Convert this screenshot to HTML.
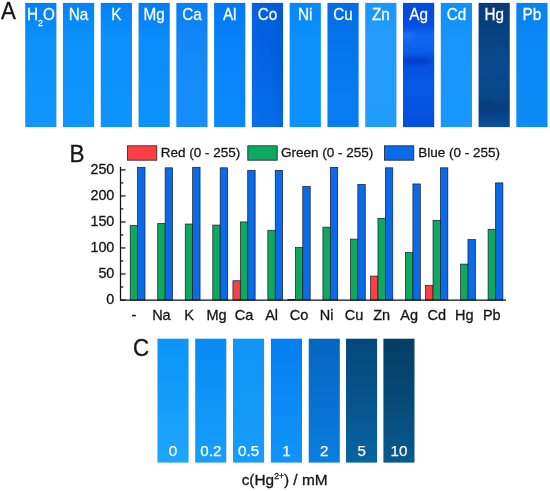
<!DOCTYPE html><html><head><meta charset="utf-8"><title>Figure</title>
<style>html,body{margin:0;padding:0;background:#fff}svg{display:block}text{font-family:"Liberation Sans",Arial,sans-serif}.w{fill:#fff;stroke:#fff;stroke-width:.25}.k{fill:#151515;stroke:#151515;stroke-width:.3}</style></head><body>
<svg width="550" height="491" viewBox="0 0 550 491">
<defs>
<linearGradient id="a0" x1="0" y1="0" x2="0" y2="1"><stop offset="0" stop-color="rgb(4,128,247)"/><stop offset="0.3" stop-color="rgb(12,144,252)"/><stop offset="1" stop-color="rgb(16,150,253)"/></linearGradient>
<linearGradient id="a1" x1="0" y1="0" x2="0" y2="1"><stop offset="0" stop-color="rgb(4,130,247)"/><stop offset="0.3" stop-color="rgb(12,146,252)"/><stop offset="1" stop-color="rgb(14,150,253)"/></linearGradient>
<linearGradient id="a2" x1="0" y1="0" x2="0" y2="1"><stop offset="0" stop-color="rgb(4,128,247)"/><stop offset="0.3" stop-color="rgb(12,144,252)"/><stop offset="1" stop-color="rgb(14,148,253)"/></linearGradient>
<linearGradient id="a3" x1="0" y1="0" x2="0" y2="1"><stop offset="0" stop-color="rgb(4,124,246)"/><stop offset="0.3" stop-color="rgb(10,140,251)"/><stop offset="1" stop-color="rgb(12,146,252)"/></linearGradient>
<linearGradient id="a4" x1="0" y1="0" x2="0" y2="1"><stop offset="0" stop-color="rgb(10,126,245)"/><stop offset="0.4" stop-color="rgb(20,138,249)"/><stop offset="1" stop-color="rgb(20,142,251)"/></linearGradient>
<linearGradient id="a5" x1="0" y1="0" x2="0" y2="1"><stop offset="0" stop-color="rgb(4,120,244)"/><stop offset="0.4" stop-color="rgb(8,132,248)"/><stop offset="1" stop-color="rgb(10,138,250)"/></linearGradient>
<linearGradient id="a6" x1="0" y1="0" x2="0" y2="1"><stop offset="0" stop-color="rgb(2,94,222)"/><stop offset="0.5" stop-color="rgb(3,100,228)"/><stop offset="1" stop-color="rgb(6,112,238)"/></linearGradient>
<linearGradient id="a7" x1="0" y1="0" x2="0" y2="1"><stop offset="0" stop-color="rgb(6,136,249)"/><stop offset="0.3" stop-color="rgb(12,144,252)"/><stop offset="1" stop-color="rgb(12,146,252)"/></linearGradient>
<linearGradient id="a8" x1="0" y1="0" x2="0" y2="1"><stop offset="0" stop-color="rgb(3,108,228)"/><stop offset="0.4" stop-color="rgb(5,118,236)"/><stop offset="1" stop-color="rgb(8,126,242)"/></linearGradient>
<linearGradient id="a9" x1="0" y1="0" x2="0" y2="1"><stop offset="0" stop-color="rgb(26,150,251)"/><stop offset="0.3" stop-color="rgb(36,156,253)"/><stop offset="1" stop-color="rgb(32,156,253)"/></linearGradient>
<linearGradient id="a10" x1="0" y1="0" x2="0" y2="1"><stop offset="0" stop-color="rgb(3,74,222)"/><stop offset="0.18" stop-color="rgb(4,78,226)"/><stop offset="0.26" stop-color="rgb(18,102,240)"/><stop offset="0.38" stop-color="rgb(12,96,236)"/><stop offset="0.44" stop-color="rgb(8,84,226)"/><stop offset="0.56" stop-color="rgb(6,82,226)"/><stop offset="0.65" stop-color="rgb(8,88,230)"/><stop offset="1" stop-color="rgb(4,78,222)"/></linearGradient>
<linearGradient id="a11" x1="0" y1="0" x2="0" y2="1"><stop offset="0" stop-color="rgb(16,142,250)"/><stop offset="0.3" stop-color="rgb(24,150,253)"/><stop offset="1" stop-color="rgb(22,152,253)"/></linearGradient>
<linearGradient id="a12" x1="0" y1="0" x2="0" y2="1"><stop offset="0" stop-color="rgb(7,60,120)"/><stop offset="0.3" stop-color="rgb(8,67,132)"/><stop offset="0.5" stop-color="rgb(9,73,143)"/><stop offset="0.75" stop-color="rgb(8,70,138)"/><stop offset="0.85" stop-color="rgb(6,62,126)"/><stop offset="0.93" stop-color="rgb(8,70,140)"/><stop offset="1" stop-color="rgb(10,80,158)"/></linearGradient>
<linearGradient id="a13" x1="0" y1="0" x2="0" y2="1"><stop offset="0" stop-color="rgb(6,130,240)"/><stop offset="0.4" stop-color="rgb(10,138,246)"/><stop offset="1" stop-color="rgb(10,140,247)"/></linearGradient>
<linearGradient id="c0" x1="0" y1="0" x2="0" y2="1"><stop offset="0" stop-color="rgb(12,148,248)"/><stop offset="0.5" stop-color="rgb(20,156,250)"/><stop offset="1" stop-color="rgb(30,166,252)"/></linearGradient>
<linearGradient id="c1" x1="0" y1="0" x2="0" y2="1"><stop offset="0" stop-color="rgb(8,138,243)"/><stop offset="0.5" stop-color="rgb(16,148,248)"/><stop offset="1" stop-color="rgb(24,158,250)"/></linearGradient>
<linearGradient id="c2" x1="0" y1="0" x2="0" y2="1"><stop offset="0" stop-color="rgb(16,148,246)"/><stop offset="0.5" stop-color="rgb(20,152,248)"/><stop offset="1" stop-color="rgb(24,156,250)"/></linearGradient>
<linearGradient id="c3" x1="0" y1="0" x2="0" y2="1"><stop offset="0" stop-color="rgb(4,126,240)"/><stop offset="0.5" stop-color="rgb(10,138,246)"/><stop offset="1" stop-color="rgb(16,148,250)"/></linearGradient>
<linearGradient id="c4" x1="0" y1="0" x2="0" y2="1"><stop offset="0" stop-color="rgb(6,102,192)"/><stop offset="0.5" stop-color="rgb(8,112,208)"/><stop offset="1" stop-color="rgb(10,126,224)"/></linearGradient>
<linearGradient id="c5" x1="0" y1="0" x2="0" y2="1"><stop offset="0" stop-color="rgb(4,72,122)"/><stop offset="0.5" stop-color="rgb(6,84,140)"/><stop offset="1" stop-color="rgb(8,100,162)"/></linearGradient>
<linearGradient id="c6" x1="0" y1="0" x2="0" y2="1"><stop offset="0" stop-color="rgb(4,62,102)"/><stop offset="0.5" stop-color="rgb(6,74,120)"/><stop offset="1" stop-color="rgb(8,90,142)"/></linearGradient>
<linearGradient id="coH" x1="0" y1="0" x2="1" y2="0"><stop offset="0" stop-color="#1478f0" stop-opacity=".25"/><stop offset=".5" stop-color="#0050c0" stop-opacity="0"/><stop offset="1" stop-color="#0040b0" stop-opacity=".25"/></linearGradient>
<filter id="bl" x="-50%" y="-50%" width="200%" height="200%"><feGaussianBlur stdDeviation="2.2"/></filter>
</defs>
<rect width="550" height="491" fill="#fff"/>
<text class="k" transform="translate(0.9 19.45) scale(1 1.05)" font-size="22.3">A</text>
<rect x="25.20" y="2.9" width="31.2" height="124.2" fill="url(#a0)"/>
<text class="w" transform="translate(41.0 19.6) scale(1 1.04)" font-size="15.3" text-anchor="middle">H<tspan font-size="9" dy="5.7">2</tspan><tspan dy="-5.7">O</tspan></text>
<rect x="62.98" y="2.9" width="31.2" height="124.2" fill="url(#a1)"/>
<text class="w" transform="translate(78.6 19.6) scale(1 1.04)" font-size="15.3" text-anchor="middle">Na</text>
<rect x="100.76" y="2.9" width="31.2" height="124.2" fill="url(#a2)"/>
<text class="w" transform="translate(116.4 19.6) scale(1 1.04)" font-size="15.3" text-anchor="middle">K</text>
<rect x="138.54" y="2.9" width="31.2" height="124.2" fill="url(#a3)"/>
<text class="w" transform="translate(154.1 19.6) scale(1 1.04)" font-size="15.3" text-anchor="middle">Mg</text>
<rect x="176.32" y="2.9" width="31.2" height="124.2" fill="url(#a4)"/>
<text class="w" transform="translate(191.9 19.6) scale(1 1.04)" font-size="15.3" text-anchor="middle">Ca</text>
<rect x="214.10" y="2.9" width="31.2" height="124.2" fill="url(#a5)"/>
<text class="w" transform="translate(229.7 19.6) scale(1 1.04)" font-size="15.3" text-anchor="middle">Al</text>
<rect x="251.88" y="2.9" width="31.2" height="124.2" fill="url(#a6)"/>
<rect x="251.88" y="2.9" width="31.2" height="124.2" fill="url(#coH)"/>
<text class="w" transform="translate(267.5 19.6) scale(1 1.04)" font-size="15.3" text-anchor="middle">Co</text>
<rect x="289.66" y="2.9" width="31.2" height="124.2" fill="url(#a7)"/>
<text class="w" transform="translate(305.3 19.6) scale(1 1.04)" font-size="15.3" text-anchor="middle">Ni</text>
<rect x="327.44" y="2.9" width="31.2" height="124.2" fill="url(#a8)"/>
<text class="w" transform="translate(343.0 19.6) scale(1 1.04)" font-size="15.3" text-anchor="middle">Cu</text>
<rect x="365.22" y="2.9" width="31.2" height="124.2" fill="url(#a9)"/>
<text class="w" transform="translate(380.8 19.6) scale(1 1.04)" font-size="15.3" text-anchor="middle">Zn</text>
<rect x="403.00" y="2.9" width="31.2" height="124.2" fill="url(#a10)"/>
<clipPath id="cpAg"><rect x="403.00" y="2.9" width="31.2" height="124.2"/></clipPath>
<g clip-path="url(#cpAg)"><ellipse cx="416.0" cy="61" rx="17" ry="3.6" fill="rgb(0,48,184)" opacity=".6" filter="url(#bl)"/><ellipse cx="408.0" cy="36" rx="7" ry="4" fill="rgb(40,124,246)" opacity=".5" filter="url(#bl)"/></g>
<text class="w" transform="translate(418.6 19.6) scale(1 1.04)" font-size="15.3" text-anchor="middle">Ag</text>
<rect x="440.78" y="2.9" width="31.2" height="124.2" fill="url(#a11)"/>
<text class="w" transform="translate(456.4 19.6) scale(1 1.04)" font-size="15.3" text-anchor="middle">Cd</text>
<rect x="478.56" y="2.9" width="31.2" height="124.2" fill="url(#a12)"/>
<clipPath id="cpHg"><rect x="478.56" y="2.9" width="31.2" height="124.2"/></clipPath>
<g clip-path="url(#cpHg)"><ellipse cx="487.6" cy="106" rx="10" ry="5" fill="rgb(4,52,108)" opacity=".2" filter="url(#bl)"/><ellipse cx="500.6" cy="60" rx="8" ry="14" fill="rgb(12,88,170)" opacity=".15" filter="url(#bl)"/></g>
<text class="w" transform="translate(494.2 19.6) scale(1 1.04)" font-size="15.3" text-anchor="middle">Hg</text>
<rect x="516.34" y="2.9" width="31.2" height="124.2" fill="url(#a13)"/>
<text class="w" transform="translate(531.9 19.6) scale(1 1.04)" font-size="15.3" text-anchor="middle">Pb</text>
<text class="k" transform="translate(69.5 162.1) scale(1 1.095)" font-size="22.5">B</text>
<rect x="127.4" y="145.8" width="29.4" height="14.4" fill="#fb3f42" stroke="#1c2430" stroke-width="0.8"/>
<text class="k" x="160.7" y="156.7" font-size="13.5">Red (0 - 255)</text>
<rect x="247.8" y="145.8" width="29.4" height="14.4" fill="#0ea960" stroke="#1c2430" stroke-width="0.8"/>
<text class="k" x="281.0" y="156.7" font-size="13.5">Green (0 - 255)</text>
<rect x="384.4" y="145.8" width="29.4" height="14.4" fill="#0b6ae8" stroke="#1c2430" stroke-width="0.8"/>
<text class="k" x="418.2" y="156.7" font-size="13.5">Blue (0 - 255)</text>
<rect x="130.20" y="225.58" width="7.4" height="74.42" fill="#0ea960" stroke="#141c28" stroke-width="0.7"/>
<rect x="137.60" y="167.30" width="7.4" height="132.70" fill="#0b6ae8" stroke="#141c28" stroke-width="0.7"/>
<rect x="157.73" y="223.50" width="7.4" height="76.50" fill="#0ea960" stroke="#141c28" stroke-width="0.7"/>
<rect x="165.13" y="167.82" width="7.4" height="132.18" fill="#0b6ae8" stroke="#141c28" stroke-width="0.7"/>
<rect x="185.26" y="224.02" width="7.4" height="75.98" fill="#0ea960" stroke="#141c28" stroke-width="0.7"/>
<rect x="192.66" y="167.30" width="7.4" height="132.70" fill="#0b6ae8" stroke="#141c28" stroke-width="0.7"/>
<rect x="212.79" y="225.06" width="7.4" height="74.94" fill="#0ea960" stroke="#141c28" stroke-width="0.7"/>
<rect x="220.19" y="167.82" width="7.4" height="132.18" fill="#0b6ae8" stroke="#141c28" stroke-width="0.7"/>
<rect x="232.92" y="280.75" width="7.4" height="19.25" fill="#fb3f42" stroke="#141c28" stroke-width="0.7"/>
<rect x="240.32" y="221.94" width="7.4" height="78.06" fill="#0ea960" stroke="#141c28" stroke-width="0.7"/>
<rect x="247.72" y="170.42" width="7.4" height="129.58" fill="#0b6ae8" stroke="#141c28" stroke-width="0.7"/>
<rect x="267.85" y="230.27" width="7.4" height="69.73" fill="#0ea960" stroke="#141c28" stroke-width="0.7"/>
<rect x="275.25" y="170.42" width="7.4" height="129.58" fill="#0b6ae8" stroke="#141c28" stroke-width="0.7"/>
<rect x="287.98" y="299.48" width="7.4" height="0.52" fill="#fb3f42" stroke="#141c28" stroke-width="0.7"/>
<rect x="295.38" y="247.44" width="7.4" height="52.56" fill="#0ea960" stroke="#141c28" stroke-width="0.7"/>
<rect x="302.78" y="186.55" width="7.4" height="113.45" fill="#0b6ae8" stroke="#141c28" stroke-width="0.7"/>
<rect x="322.91" y="227.14" width="7.4" height="72.86" fill="#0ea960" stroke="#141c28" stroke-width="0.7"/>
<rect x="330.31" y="167.30" width="7.4" height="132.70" fill="#0b6ae8" stroke="#141c28" stroke-width="0.7"/>
<rect x="350.44" y="239.11" width="7.4" height="60.89" fill="#0ea960" stroke="#141c28" stroke-width="0.7"/>
<rect x="357.84" y="184.47" width="7.4" height="115.53" fill="#0b6ae8" stroke="#141c28" stroke-width="0.7"/>
<rect x="370.57" y="276.06" width="7.4" height="23.94" fill="#fb3f42" stroke="#141c28" stroke-width="0.7"/>
<rect x="377.97" y="218.30" width="7.4" height="81.70" fill="#0ea960" stroke="#141c28" stroke-width="0.7"/>
<rect x="385.37" y="167.82" width="7.4" height="132.18" fill="#0b6ae8" stroke="#141c28" stroke-width="0.7"/>
<rect x="405.50" y="252.64" width="7.4" height="47.36" fill="#0ea960" stroke="#141c28" stroke-width="0.7"/>
<rect x="412.90" y="183.95" width="7.4" height="116.05" fill="#0b6ae8" stroke="#141c28" stroke-width="0.7"/>
<rect x="425.63" y="285.43" width="7.4" height="14.57" fill="#fb3f42" stroke="#141c28" stroke-width="0.7"/>
<rect x="433.03" y="220.38" width="7.4" height="79.62" fill="#0ea960" stroke="#141c28" stroke-width="0.7"/>
<rect x="440.43" y="167.82" width="7.4" height="132.18" fill="#0b6ae8" stroke="#141c28" stroke-width="0.7"/>
<rect x="460.56" y="264.09" width="7.4" height="35.91" fill="#0ea960" stroke="#141c28" stroke-width="0.7"/>
<rect x="467.96" y="239.63" width="7.4" height="60.37" fill="#0b6ae8" stroke="#141c28" stroke-width="0.7"/>
<rect x="488.09" y="229.23" width="7.4" height="70.77" fill="#0ea960" stroke="#141c28" stroke-width="0.7"/>
<rect x="495.49" y="182.91" width="7.4" height="117.09" fill="#0b6ae8" stroke="#141c28" stroke-width="0.7"/>
<path d="M120.5 166.8V300.6M119.9 300H506" stroke="#111" stroke-width="1.25" fill="none"/>
<path d="M120.5 300.00H125.6" stroke="#111" stroke-width="1.2"/>
<text class="k" x="114.3" y="304.45" font-size="14.3" text-anchor="end">0</text>
<path d="M120.5 286.99H123.3" stroke="#111" stroke-width="1.2"/>
<path d="M120.5 273.98H125.6" stroke="#111" stroke-width="1.2"/>
<text class="k" x="114.3" y="278.43" font-size="14.3" text-anchor="end">50</text>
<path d="M120.5 260.97H123.3" stroke="#111" stroke-width="1.2"/>
<path d="M120.5 247.96H125.6" stroke="#111" stroke-width="1.2"/>
<text class="k" x="114.3" y="252.41" font-size="14.3" text-anchor="end">100</text>
<path d="M120.5 234.95H123.3" stroke="#111" stroke-width="1.2"/>
<path d="M120.5 221.94H125.6" stroke="#111" stroke-width="1.2"/>
<text class="k" x="114.3" y="226.39" font-size="14.3" text-anchor="end">150</text>
<path d="M120.5 208.93H123.3" stroke="#111" stroke-width="1.2"/>
<path d="M120.5 195.92H125.6" stroke="#111" stroke-width="1.2"/>
<text class="k" x="114.3" y="200.37" font-size="14.3" text-anchor="end">200</text>
<path d="M120.5 182.91H123.3" stroke="#111" stroke-width="1.2"/>
<path d="M120.5 169.90H125.6" stroke="#111" stroke-width="1.2"/>
<text class="k" x="114.3" y="174.35" font-size="14.3" text-anchor="end">250</text>
<text class="k" x="133.9" y="320" font-size="14.5" text-anchor="middle">-</text>
<text class="k" x="161.4" y="320" font-size="14.5" text-anchor="middle">Na</text>
<text class="k" x="189.0" y="320" font-size="14.5" text-anchor="middle">K</text>
<text class="k" x="216.5" y="320" font-size="14.5" text-anchor="middle">Mg</text>
<text class="k" x="244.0" y="320" font-size="14.5" text-anchor="middle">Ca</text>
<text class="k" x="271.6" y="320" font-size="14.5" text-anchor="middle">Al</text>
<text class="k" x="299.1" y="320" font-size="14.5" text-anchor="middle">Co</text>
<text class="k" x="326.6" y="320" font-size="14.5" text-anchor="middle">Ni</text>
<text class="k" x="354.1" y="320" font-size="14.5" text-anchor="middle">Cu</text>
<text class="k" x="381.7" y="320" font-size="14.5" text-anchor="middle">Zn</text>
<text class="k" x="409.2" y="320" font-size="14.5" text-anchor="middle">Ag</text>
<text class="k" x="436.7" y="320" font-size="14.5" text-anchor="middle">Cd</text>
<text class="k" x="464.3" y="320" font-size="14.5" text-anchor="middle">Hg</text>
<text class="k" x="491.8" y="320" font-size="14.5" text-anchor="middle">Pb</text>
<text class="k" transform="translate(132.9 356.1) scale(1 1.10)" font-size="22.3">C</text>
<rect x="157.45" y="338.7" width="31.1" height="123.9" fill="url(#c0)"/>
<text class="w" x="173.0" y="456.1" font-size="15.1" text-anchor="middle">0</text>
<rect x="195.20" y="338.7" width="31.1" height="123.9" fill="url(#c1)"/>
<text class="w" x="210.8" y="456.1" font-size="15.1" text-anchor="middle">0.2</text>
<rect x="233.00" y="338.7" width="31.1" height="123.9" fill="url(#c2)"/>
<text class="w" x="248.6" y="456.1" font-size="15.1" text-anchor="middle">0.5</text>
<rect x="270.90" y="338.7" width="31.1" height="123.9" fill="url(#c3)"/>
<text class="w" x="286.5" y="456.1" font-size="15.1" text-anchor="middle">1</text>
<rect x="308.70" y="338.7" width="31.1" height="123.9" fill="url(#c4)"/>
<text class="w" x="324.3" y="456.1" font-size="15.1" text-anchor="middle">2</text>
<rect x="346.00" y="338.7" width="31.1" height="123.9" fill="url(#c5)"/>
<text class="w" x="361.6" y="456.1" font-size="15.1" text-anchor="middle">5</text>
<rect x="383.40" y="338.7" width="31.1" height="123.9" fill="url(#c6)"/>
<text class="w" x="399.0" y="456.1" font-size="15.1" text-anchor="middle">10</text>
<text class="k" x="284.6" y="484.6" font-size="15.4" text-anchor="middle">c(Hg<tspan font-size="8.6" dy="-5.2">2+</tspan><tspan dy="5.2">) / mM</tspan></text>
</svg></body></html>
